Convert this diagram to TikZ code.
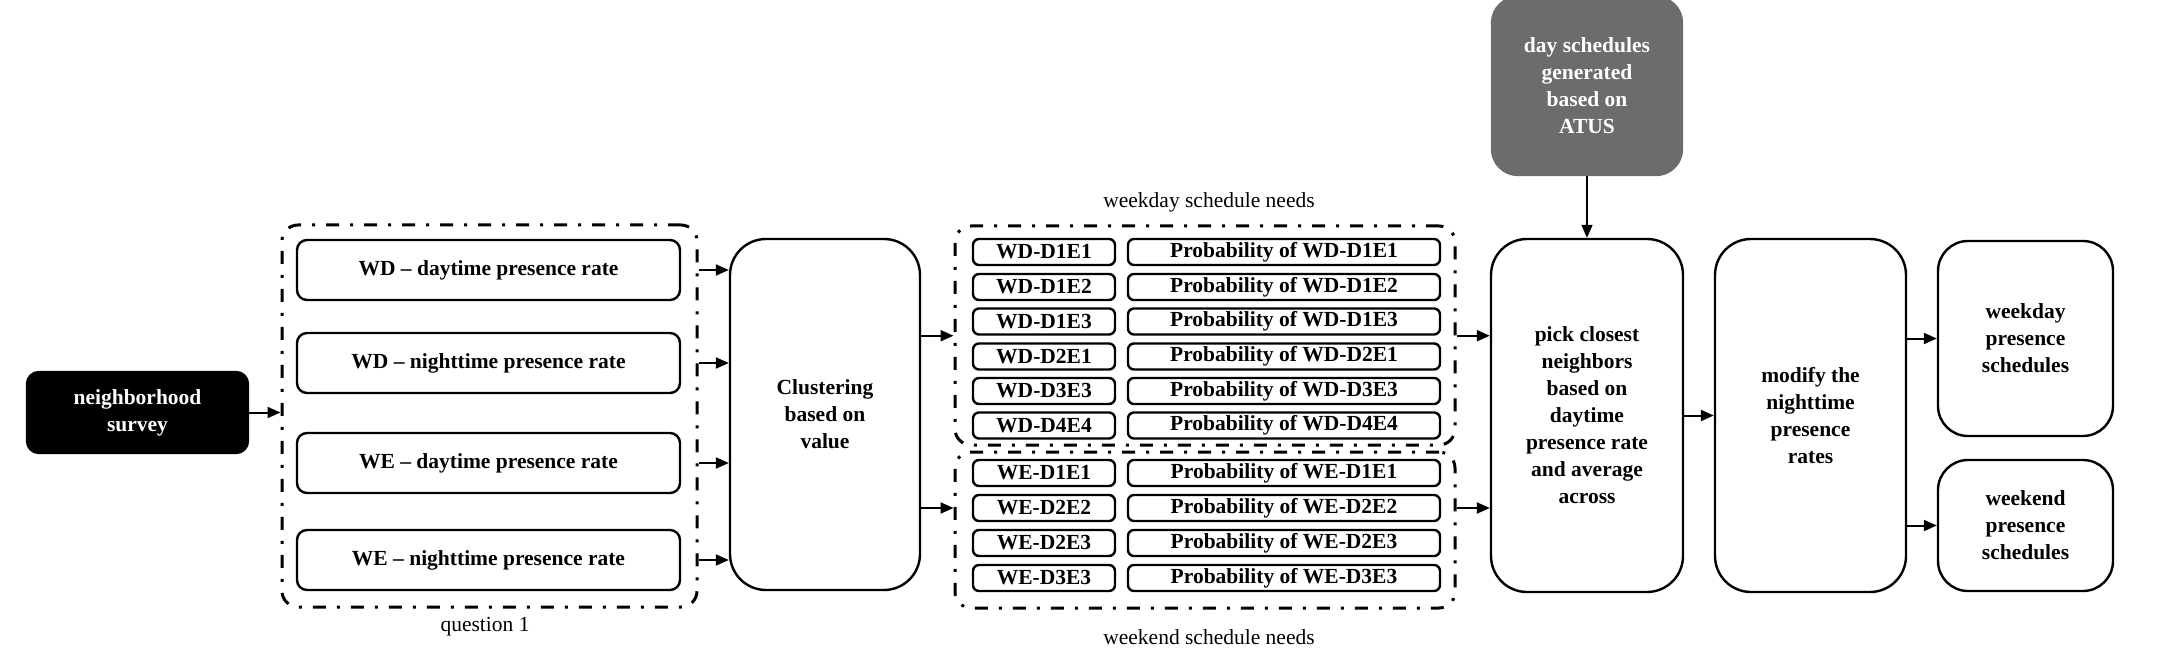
\documentclass[tikz,border=0pt]{standalone}
\usepackage{fontspec}
\setmainfont{Liberation Serif}
\usetikzlibrary{arrows.meta}
\definecolor{atusgray}{RGB}{108,108,108}
\begin{document}
\begin{tikzpicture}[x=1pt,y=-1pt,
  txtbase/.style={font=\fontsize{21.5}{27}\selectfont\bfseries, align=center, inner sep=0pt},
  box/.style={txtbase, draw=black, line width=2.4pt, fill=white, rounded corners=#1},
  box/.default=10pt,
  smallbox/.style={box=6pt, minimum height=26pt},
  frame/.style={draw=black, line width=3pt, rounded corners=16pt,
    dash pattern=on 13pt off 11pt on 3pt off 11pt},
  lbl/.style={font=\fontsize{21.5}{27}\selectfont, inner sep=0pt},
  arr/.style={line width=2pt, -{Triangle[length=13pt,width=11pt]}},
]
\useasboundingbox (0,0) rectangle (2158,663);

% input
\node[box=12pt, fill=black, text=white, minimum width=221pt, minimum height=81pt] (survey) at (137.5,412.5) {neighborhood\\survey};

% question 1 group
\node[frame, minimum width=415pt, minimum height=382pt] (q1) at (489.5,416) {};
\node[lbl] (q1lbl) at (485,627) {question 1};
\node[box, minimum width=383pt, minimum height=60pt] (b1) at (488.5,270) {WD – daytime presence rate};
\node[box, minimum width=383pt, minimum height=60pt] (b2) at (488.5,363) {WD – nighttime presence rate};
\node[box, minimum width=383pt, minimum height=60pt] (b3) at (488.5,463) {WE – daytime presence rate};
\node[box, minimum width=383pt, minimum height=60pt] (b4) at (488.5,560) {WE – nighttime presence rate};

% clustering
\node[box=36pt, minimum width=190pt, minimum height=351pt] (clust) at (825,414.5) {Clustering\\based on\\value};

% schedule needs
\node[frame, minimum width=500pt, minimum height=219pt] (wdframe) at (1205,335.5) {};
\node[frame, minimum width=500pt, minimum height=156pt] (weframe) at (1205,530) {};
\node[lbl] (wdlbl) at (1209,202) {weekday schedule needs};
\node[lbl] (welbl) at (1209,637) {weekend schedule needs};

\foreach \yy/\n/\t in {252/1/WD-D1E1, 287/2/WD-D1E2, 321.5/3/WD-D1E3, 356.5/4/WD-D2E1, 391/5/WD-D3E3, 425.5/6/WD-D4E4}{
  \node[smallbox, minimum width=142pt] (wd\n) at (1044,\yy) {\t};
  \node[smallbox, minimum width=312pt] (pwd\n) at (1284,\yy) {Probability of \t};
}
\foreach \yy/\n/\t in {473/1/WE-D1E1, 508/2/WE-D2E2, 543/3/WE-D2E3, 578/4/WE-D3E3}{
  \node[smallbox, minimum width=142pt] (we\n) at (1044,\yy) {\t};
  \node[smallbox, minimum width=312pt] (pwe\n) at (1284,\yy) {Probability of \t};
}

% ATUS
\node[box=26pt, fill=atusgray, draw=atusgray, text=white, minimum width=190pt, minimum height=178pt] (atus) at (1587,86) {day schedules\\generated\\based on\\ATUS};

% processing
\node[box=36pt, minimum width=192pt, minimum height=353pt] (pick) at (1587,415.5) {pick closest\\neighbors\\based on\\daytime\\presence rate\\and average\\across};
\node[box=36pt, minimum width=191pt, minimum height=353pt] (modify) at (1810.5,415.5) {modify the\\nighttime\\presence\\rates};

% outputs
\node[box=30pt, minimum width=175pt, minimum height=195pt] (wdout) at (2025.5,338.5) {weekday\\presence\\schedules};
\node[box=30pt, minimum width=175pt, minimum height=131pt] (weout) at (2025.5,525.5) {weekend\\presence\\schedules};

% connectors
\draw[arr] (survey.east) -- (survey.east -| q1.west);
\foreach \b in {b1,b2,b3,b4}{
  \draw[arr] (\b.east -| q1.east) -- (\b.east -| clust.west);
}
\draw[arr] (clust.east |- wd3.south) -- (wdframe.west |- wd3.south);
\draw[arr] (clust.east |- we2.west) -- (weframe.west |- we2.west);
\draw[arr] (wdframe.east |- wd3.south) -- (pick.west |- wd3.south);
\draw[arr] (weframe.east |- we2.west) -- (pick.west |- we2.west);
\draw[line width=1.5pt, -{Triangle[length=13pt,width=11pt]}] (atus.south) -- (pick.north);
\draw[arr] (pick.east) -- (modify.west);
\draw[arr] (modify.east |- wdout.west) -- (wdout.west);
\draw[arr] (modify.east |- weout.west) -- (weout.west);
\end{tikzpicture}
\end{document}
